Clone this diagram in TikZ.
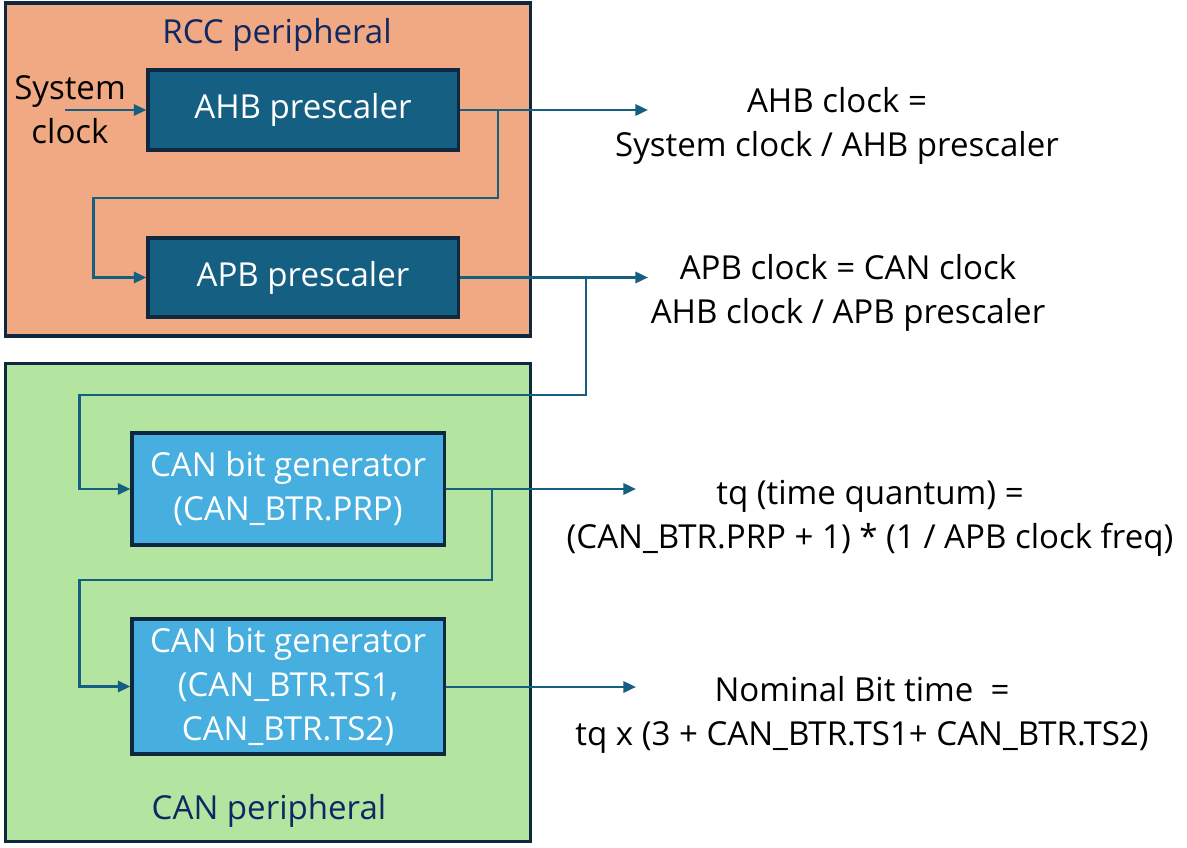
\documentclass[tikz,border=0pt]{standalone}
\usepackage{fontspec}
\setmainfont{Open Sans}
\usetikzlibrary{positioning,arrows.meta}

\definecolor{rccfill}{RGB}{241,169,131}
\definecolor{canfill}{RGB}{179,229,161}
\definecolor{darkblock}{RGB}{21,96,130}
\definecolor{lightblock}{RGB}{71,175,224}
\definecolor{edgecol}{RGB}{14,40,65}
\definecolor{titlecol}{RGB}{14,40,100}
\definecolor{wirecol}{RGB}{21,96,130}

\tikzstyle{periph} = [draw=edgecol, line width=2.2pt, inner sep=0pt, minimum width=13.1cm]
\tikzstyle{block} = [draw=edgecol, line width=2.2pt, text=white, align=center, inner sep=0pt]
\tikzstyle{label} = [align=center]
\tikzstyle{wire} = [draw=wirecol, line width=1.9pt, -{Triangle[length=9pt,width=8pt]}]

\begin{document}
\begin{tikzpicture}[x=0.025cm, y=-0.025cm, font=\fontsize{23.5}{31.3}\selectfont]
      \useasboundingbox (0,0) rectangle (1187,847);

      \node[periph, fill=rccfill, minimum height=8.325cm] (rcc) at (268,169.5) {};
      \node[periph, fill=canfill, minimum height=11.925cm] (can) at (268,602.5) {};
      \node[text=titlecol] (rcctitle) at (277,35) {RCC peripheral};
      \node[text=titlecol] (cantitle) at (269,811) {CAN peripheral};

      \node[block, fill=darkblock, minimum width=7.75cm, minimum height=2cm] (ahb) at (303,110) {AHB prescaler};
      \node[block, fill=darkblock, minimum width=7.75cm, minimum height=1.975cm] (apb) at (303,277.5) {APB prescaler};
      \node[block, fill=lightblock, minimum width=7.8cm, minimum height=2.8cm] (prp) at (288,489) {CAN bit generator\\(CAN\_BTR.PRP)};
      \node[block, fill=lightblock, minimum width=7.8cm, minimum height=3.375cm] (ts) at (288,686.5) {CAN bit generator\\(CAN\_BTR.TS1,\\CAN\_BTR.TS2)};

      \node[label] (sysclk) at (70,110) {System\\clock};
      \node[label] (ahbtxt) at (837,126) {AHB clock =\\System clock / AHB prescaler};
      \node[label] (apbtxt) at (848,293) {APB clock = CAN clock\\AHB clock / APB prescaler};
      \node[label] (tqtxt) at (870,518) {tq (time quantum) =\\(CAN\_BTR.PRP + 1) * (1 / APB clock freq)};
      \node[label] (bittxt) at (862,715) {Nominal Bit time~ =\\tq x (3 + CAN\_BTR.TS1+ CAN\_BTR.TS2)};

      \coordinate (ahbend) at (648,110);
      \coordinate (apbend) at (648,277.5);
      \coordinate (prpend) at (636,489);
      \coordinate (tsend) at (636,687);
      \coordinate (ahbsplit) at (498,110);
      \coordinate (apbsplit) at (586,277.5);
      \coordinate (prpsplit) at (492,489);

      \draw[wire] (sysclk.center |- ahb.west) ++(-5,0) -- (ahb.west);
      \draw[wire] (ahb.east) -- (ahbend);
      \draw[wire] (apb.east) -- (apbend);
      \draw[wire] (prp.east) -- (prpend);
      \draw[wire] (ts.east |- tsend) -- (tsend);

      \draw[wire] (ahbsplit) -- ++(0,88) -| ([xshift=-1.325cm]apb.west) -- (apb.west);
      \draw[wire] (apbsplit) -- ++(0,117.5) -| ([xshift=-1.275cm]prp.west) -- (prp.west);
      \draw[wire] (prpsplit) -- ++(0,91) -| ([xshift=-1.275cm]ts.west) -- (ts.west);
\end{tikzpicture}
\end{document}
